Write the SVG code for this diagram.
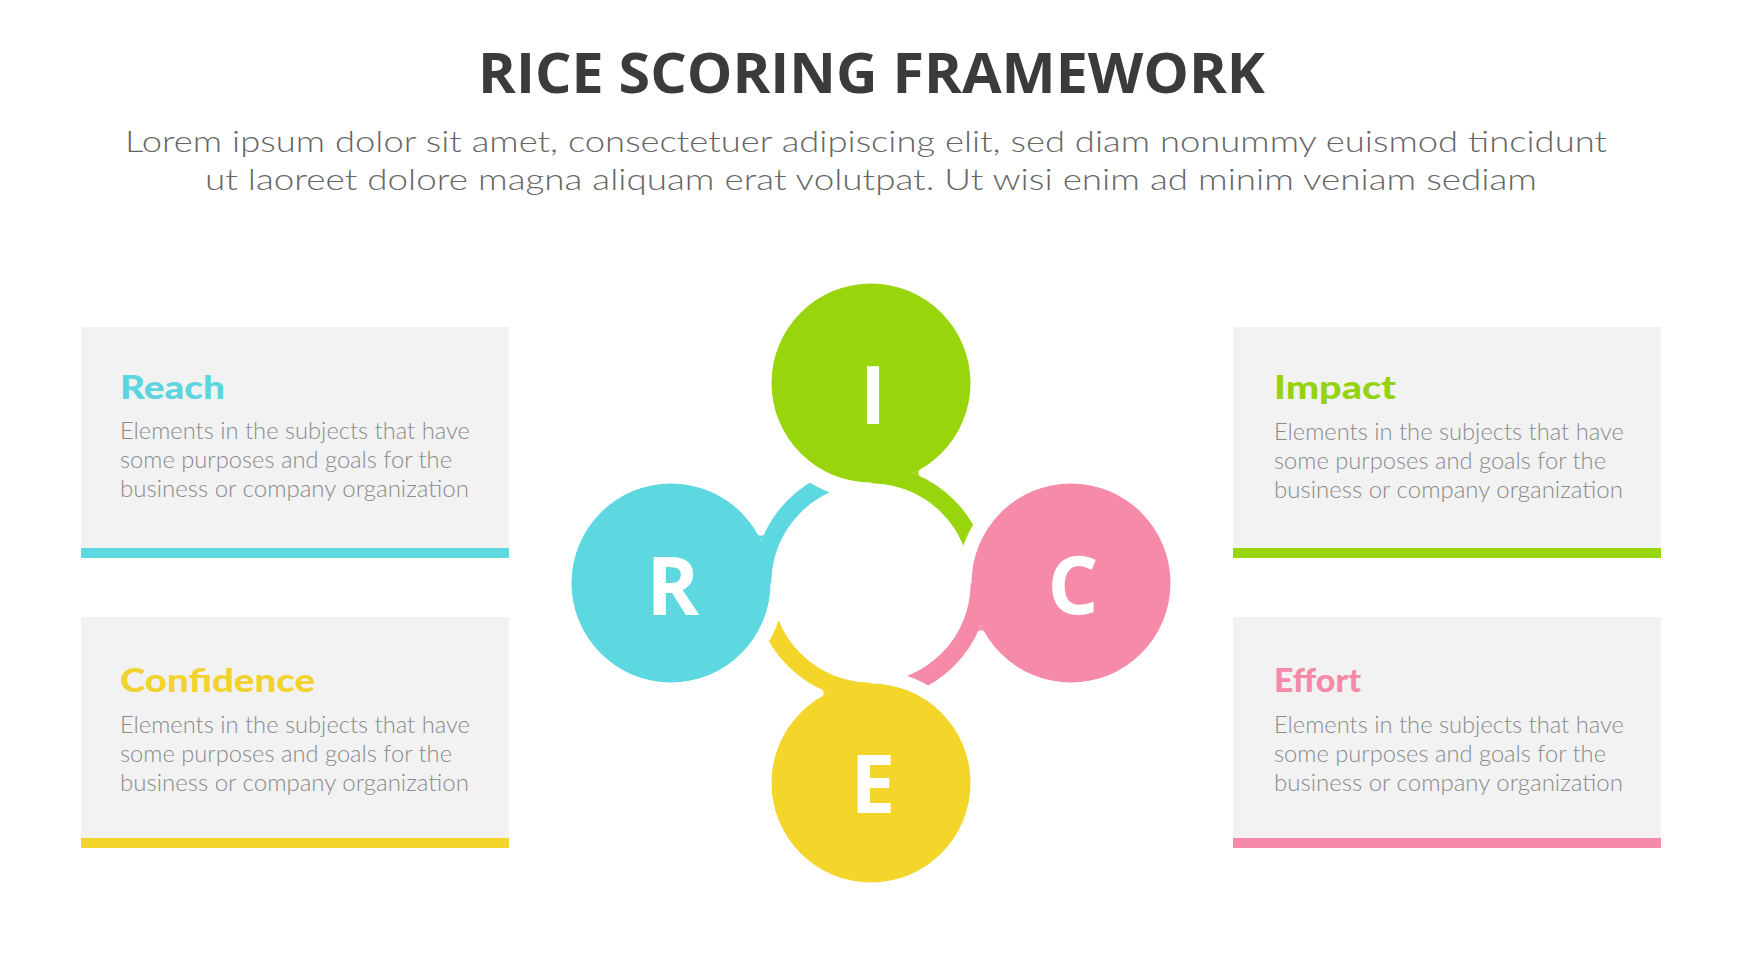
<svg xmlns="http://www.w3.org/2000/svg" width="1742" height="980" viewBox="0 0 1742 980">
  <style>
    .title { font-family: "Open Sans", "Liberation Sans", sans-serif; font-weight: 700; font-size: 55px; fill: #3b3b3b; }
    .sub { font-family: Lato, "Liberation Sans", sans-serif; font-weight: 300; font-size: 30px; fill: #666666; }
    .box { fill: #f2f2f2; }
    .head { font-family: Lato, "Liberation Sans", sans-serif; font-weight: 900; font-size: 32px; }
    .body { font-family: Lato, "Liberation Sans", sans-serif; font-weight: 300; font-size: 24px; fill: #8a8a8a; }
    .letter { font-family: "Open Sans", "Liberation Sans", sans-serif; font-weight: 700; font-size: 80px; fill: #ffffff; text-anchor: middle; }
    .arc { fill: none; stroke-width: 18; }
    .cyan { fill: #5dd7e0; }
    .green { fill: #99d50c; }
    .pink { fill: #f58ba8; }
    .yellow { fill: #f4d52a; }
  </style>
  <defs>
    <mask id="mGreen" maskUnits="userSpaceOnUse" x="0" y="0" width="1742" height="980">
      <rect x="0" y="0" width="1742" height="980" fill="#fff"/>
      <circle cx="1071" cy="583" r="114" fill="#000"/>
    </mask>
    <mask id="mPink" maskUnits="userSpaceOnUse" x="0" y="0" width="1742" height="980">
      <rect x="0" y="0" width="1742" height="980" fill="#fff"/>
      <circle cx="871" cy="783" r="113" fill="#000"/>
    </mask>
    <mask id="mYellow" maskUnits="userSpaceOnUse" x="0" y="0" width="1742" height="980">
      <rect x="0" y="0" width="1742" height="980" fill="#fff"/>
      <circle cx="671" cy="583" r="114" fill="#000"/>
    </mask>
    <mask id="mBlue" maskUnits="userSpaceOnUse" x="0" y="0" width="1742" height="980">
      <rect x="0" y="0" width="1742" height="980" fill="#fff"/>
      <circle cx="871" cy="383" r="117" fill="#000"/>
    </mask>
  </defs>

  <rect x="0" y="0" width="1742" height="980" fill="#ffffff"/>

  <g id="header">
    <text class="title" x="478" y="93" textLength="787" lengthAdjust="spacingAndGlyphs">RICE SCORING FRAMEWORK</text>
    <text class="sub" x="125" y="152" textLength="1482" lengthAdjust="spacingAndGlyphs">Lorem ipsum dolor sit amet, consectetuer adipiscing elit, sed diam nonummy euismod tincidunt</text>
    <text class="sub" x="205" y="190" textLength="1332" lengthAdjust="spacingAndGlyphs">ut laoreet dolore magna aliquam erat volutpat. Ut wisi enim ad minim veniam sediam</text>
  </g>

  <g id="box-reach">
    <rect class="box" x="81" y="327" width="428" height="221"/>
    <rect class="cyan" x="81" y="548" width="428" height="10"/>
    <text class="head" x="120" y="399" fill="#5dd5de" textLength="105" lengthAdjust="spacingAndGlyphs">Reach</text>
    <text class="body" x="120" y="439" textLength="350" lengthAdjust="spacingAndGlyphs">Elements in the subjects that have</text>
    <text class="body" x="120" y="468" textLength="332" lengthAdjust="spacingAndGlyphs">some purposes and goals for the</text>
    <text class="body" x="120" y="497" textLength="349" lengthAdjust="spacingAndGlyphs">business or company organization</text>
  </g>

  <g id="box-confidence">
    <rect class="box" x="81" y="617" width="428" height="221"/>
    <rect class="yellow" x="81" y="838" width="428" height="10"/>
    <text class="head" x="120" y="692" fill="#f2d22e" textLength="195" lengthAdjust="spacingAndGlyphs">Confidence</text>
    <text class="body" x="120" y="733" textLength="350" lengthAdjust="spacingAndGlyphs">Elements in the subjects that have</text>
    <text class="body" x="120" y="762" textLength="332" lengthAdjust="spacingAndGlyphs">some purposes and goals for the</text>
    <text class="body" x="120" y="791" textLength="349" lengthAdjust="spacingAndGlyphs">business or company organization</text>
  </g>

  <g id="box-impact">
    <rect class="box" x="1233" y="327" width="428" height="221"/>
    <rect class="green" x="1233" y="548" width="428" height="10"/>
    <text class="head" x="1274" y="399" fill="#95d30e" textLength="122" lengthAdjust="spacingAndGlyphs">Impact</text>
    <text class="body" x="1274" y="440" textLength="350" lengthAdjust="spacingAndGlyphs">Elements in the subjects that have</text>
    <text class="body" x="1274" y="469" textLength="332" lengthAdjust="spacingAndGlyphs">some purposes and goals for the</text>
    <text class="body" x="1274" y="498" textLength="349" lengthAdjust="spacingAndGlyphs">business or company organization</text>
  </g>

  <g id="box-effort">
    <rect class="box" x="1233" y="617" width="428" height="221"/>
    <rect class="pink" x="1233" y="838" width="428" height="10"/>
    <text class="head" x="1274" y="692" fill="#f38aa7" textLength="87" lengthAdjust="spacingAndGlyphs">Effort</text>
    <text class="body" x="1274" y="733" textLength="350" lengthAdjust="spacingAndGlyphs">Elements in the subjects that have</text>
    <text class="body" x="1274" y="762" textLength="332" lengthAdjust="spacingAndGlyphs">some purposes and goals for the</text>
    <text class="body" x="1274" y="791" textLength="349" lengthAdjust="spacingAndGlyphs">business or company organization</text>
  </g>

  <g id="connectors">
    <path class="arc" stroke="#99d50c" mask="url(#mGreen)" d="M 871 474.5 A 108.5 108.5 0 0 1 979.5 583"/>
    <path class="arc" stroke="#f58ba8" mask="url(#mPink)" d="M 979.5 583 A 108.5 108.5 0 0 1 871 691.5"/>
    <path class="arc" stroke="#f4d52a" mask="url(#mYellow)" d="M 871 691.5 A 108.5 108.5 0 0 1 762.5 583"/>
    <path class="arc" stroke="#5dd7e0" mask="url(#mBlue)" d="M 762.5 583 A 108.5 108.5 0 0 1 871 474.5"/>
    <path class="green" d="M 920.3 469.4 L 912.9 473.2 L 920.6 476.5 A 4 4 0 0 1 920.3 469.4 Z"/>
    <path class="pink" d="M 984.6 632.3 L 980.8 624.9 L 977.5 632.6 A 4 4 0 0 1 984.6 632.3 Z"/>
    <path class="yellow" d="M 821.7 696.6 L 829.1 692.8 L 821.4 689.5 A 4 4 0 0 1 821.7 696.6 Z"/>
    <path class="cyan" d="M 757.4 533.7 L 761.2 541.1 L 764.5 533.4 A 4 4 0 0 1 757.4 533.7 Z"/>
  </g>

  <g id="node-I">
    <circle class="green" cx="871" cy="383" r="99.5"/>
    <text class="letter" x="873" y="424">I</text>
  </g>
  <g id="node-C">
    <circle class="pink" cx="1071" cy="583" r="99.5"/>
    <text class="letter" x="1073" y="614">C</text>
  </g>
  <g id="node-E">
    <circle class="yellow" cx="871" cy="783" r="99.5"/>
    <text class="letter" x="873" y="813">E</text>
  </g>
  <g id="node-R">
    <circle class="cyan" cx="671" cy="583" r="99.5"/>
    <text class="letter" x="673" y="615">R</text>
  </g>

  <circle id="center-hole" cx="871" cy="583" r="99.5" fill="#ffffff"/>
</svg>
